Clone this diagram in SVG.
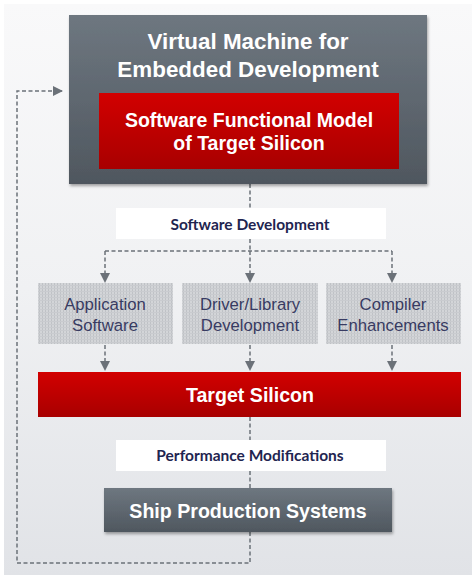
<svg xmlns="http://www.w3.org/2000/svg" width="474" height="578" viewBox="0 0 474 578">
<defs>
<linearGradient id="bg" x1="0" y1="0" x2="0" y2="1">
<stop offset="0" stop-color="#f9f9fa"/>
<stop offset="0.5" stop-color="#f0f1f3"/>
<stop offset="1" stop-color="#e1e3e7"/>
</linearGradient>
<linearGradient id="gray" x1="0" y1="0" x2="0" y2="1">
<stop offset="0" stop-color="#6e7780"/>
<stop offset="1" stop-color="#4f575f"/>
</linearGradient>
<linearGradient id="red" x1="0" y1="0" x2="0" y2="1">
<stop offset="0" stop-color="#d20000"/>
<stop offset="1" stop-color="#a80000"/>
</linearGradient>
<pattern id="grid" width="3" height="3" patternUnits="userSpaceOnUse">
<rect width="3" height="3" fill="#d3d5d8"/>
<rect width="1" height="3" fill="#bfc2c6"/>
<rect width="3" height="1" fill="#c9cbcf"/>
</pattern>
<marker id="ah" viewBox="0 0 10 10" refX="9" refY="5" markerWidth="10" markerHeight="10" markerUnits="userSpaceOnUse" orient="auto">
<path d="M0,0 L10,5 L0,10 z" fill="#6b7178"/>
</marker>
<filter id="sh" x="-5%" y="-5%" width="110%" height="115%">
<feDropShadow dx="1" dy="2" stdDeviation="1.5" flood-color="#000" flood-opacity="0.35"/>
</filter>
</defs>
<style>
.t1{font-family:"Liberation Sans",Arial,sans-serif;font-weight:bold;fill:#ffffff;text-anchor:middle}
.t2{font-family:"Liberation Sans",Arial,sans-serif;fill:#383b62;text-anchor:middle;font-size:16.7px}
.lbl{font-family:Lato,"Open Sans",sans-serif;font-weight:bold;fill:#1f2550;text-anchor:middle;font-size:15.5px}
.c{fill:none;stroke:#6b7178;stroke-width:1.5;stroke-dasharray:4 2.5}
</style>
<rect x="4" y="4" width="468" height="571" fill="url(#bg)"/>

<g id="connectors">
<path class="c" d="M250,184 V208"/>
<path class="c" d="M250,239 V251"/>
<path class="c" d="M105,251 H392"/>
<path class="c" d="M105,251 V282" marker-end="url(#ah)"/>
<path class="c" d="M250,251 V282" marker-end="url(#ah)"/>
<path class="c" d="M392,251 V282" marker-end="url(#ah)"/>
<path class="c" d="M105,345 V370" marker-end="url(#ah)"/>
<path class="c" d="M250,345 V370" marker-end="url(#ah)"/>
<path class="c" d="M392,345 V370" marker-end="url(#ah)"/>
<path class="c" d="M250,417 V440"/>
<path class="c" d="M250,471 V488"/>
<path class="c" d="M250,532 V563 H17 V91 H62" marker-end="url(#ah)"/>
</g>

<g id="vm">
<rect x="69" y="15" width="358" height="169" fill="url(#gray)" filter="url(#sh)"/>
<text class="t1" x="248" y="49" font-size="22.4">Virtual Machine for</text>
<text class="t1" x="248" y="77" font-size="22.4">Embedded Development</text>
</g>
<g id="sfm">
<rect x="99" y="93" width="300" height="76" fill="url(#red)"/>
<text class="t1" x="249" y="127" font-size="19.5">Software Functional Model</text>
<text class="t1" x="249" y="150" font-size="19.5">of Target Silicon</text>
</g>

<g id="swdev">
<rect x="116" y="208" width="270" height="31" fill="#ffffff"/>
<text class="lbl" x="250" y="230">Software Development</text>
</g>

<g id="app">
<rect x="38" y="283" width="135" height="61" fill="url(#grid)"/>
<text class="t2" x="105" y="310">Application</text>
<text class="t2" x="105" y="331">Software</text>
</g>
<g id="driver">
<rect x="182" y="283" width="136" height="61" fill="url(#grid)"/>
<text class="t2" x="250" y="310">Driver/Library</text>
<text class="t2" x="250" y="331">Development</text>
</g>
<g id="compiler">
<rect x="326" y="283" width="135" height="61" fill="url(#grid)"/>
<text class="t2" x="393" y="310">Compiler</text>
<text class="t2" x="393" y="331">Enhancements</text>
</g>

<g id="target">
<rect x="38" y="372" width="423" height="45" fill="url(#red)"/>
<text class="t1" x="250" y="402" font-size="19.6">Target Silicon</text>
</g>

<g id="perf">
<rect x="116" y="440" width="270" height="31" fill="#ffffff"/>
<text class="lbl" x="250" y="461">Performance Modifications</text>
</g>

<g id="ship">
<rect x="104" y="488" width="288" height="44" fill="url(#gray)" filter="url(#sh)"/>
<text class="t1" x="248" y="518" font-size="19.6">Ship Production Systems</text>
</g>
</svg>
